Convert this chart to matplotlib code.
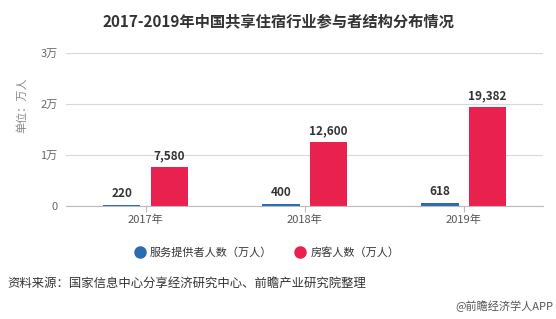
import matplotlib
matplotlib.use('Agg')
import matplotlib.pyplot as plt
from matplotlib.lines import Line2D
import numpy as np

plt.rcParams['font.family'] = ['Noto Sans CJK SC', 'DejaVu Sans']

years = ['2017年', '2018年', '2019年']
providers = [220, 400, 618]
guests = [7580, 12600, 19382]
yticks = [0, 10000, 20000, 30000]
ytick_labels = ['0', '1万', '2万', '3万']
series_names = ['服务提供者人数（万人）', '房客人数（万人）']

blue = '#2b6cb0'
red = '#e8214f'

fig = plt.figure(figsize=(5.56, 3.19), dpi=100)
ax = fig.add_axes([0.1187, 0.354, 0.858, 0.480])

x = np.arange(len(years))
w = 0.233
off = 0.148
b1 = ax.bar(x - off, providers, w, color=blue)
b2 = ax.bar(x + off, guests, w, color=red)

for bars, vals in ((b1, providers), (b2, guests)):
    for r, v in zip(bars, vals):
        ax.text(r.get_x() + r.get_width() / 2, v + 900, f'{v:,}',
                ha='center', va='bottom', fontsize=8.5, fontweight='bold', color='#333333')

ax.set_xlim(-0.5, 2.5)
ax.set_ylim(0, 30000)
ax.set_yticks(yticks)
ax.set_yticklabels(ytick_labels)
ax.set_xticks(x)
ax.set_xticklabels(years)
ax.tick_params(axis='y', length=0, labelsize=8, labelcolor='#666666', pad=6)
ax.tick_params(axis='x', length=4, color='#bbbbbb', labelsize=8, labelcolor='#555555', pad=2)
ax.grid(axis='y', color='#d8d8d8', linewidth=0.8)
ax.set_axisbelow(True)
for s in ['top', 'right', 'left']:
    ax.spines[s].set_visible(False)
ax.spines['bottom'].set_color('#bbbbbb')

fig.text(0.5, 0.93, '2017-2019年中国共享住宿行业参与者结构分布情况', ha='center', va='center',
         fontsize=11, fontweight='bold', color='#333333')
fig.text(0.04, 0.67, '单位：万人', rotation=90, ha='center', va='center', fontsize=8, color='#888888')

handles = [Line2D([], [], marker='o', linestyle='none', markersize=8, color=c) for c in (blue, red)]
fig.legend(handles, series_names, loc='center', bbox_to_anchor=(0.48, 0.21), ncol=2, frameon=False,
           fontsize=8, handlelength=1.0, columnspacing=2.0, handletextpad=0.4,
           labelcolor='#333333')

fig.text(0.013, 0.112, '资料来源：国家信息中心分享经济研究中心、前瞻产业研究院整理', ha='left', va='center',
         fontsize=8.9, color='#333333')
fig.text(0.995, 0.04, '@前瞻经济学人APP', ha='right', va='center', fontsize=8, color='#555555')

fig.savefig('out.png', dpi=100)
